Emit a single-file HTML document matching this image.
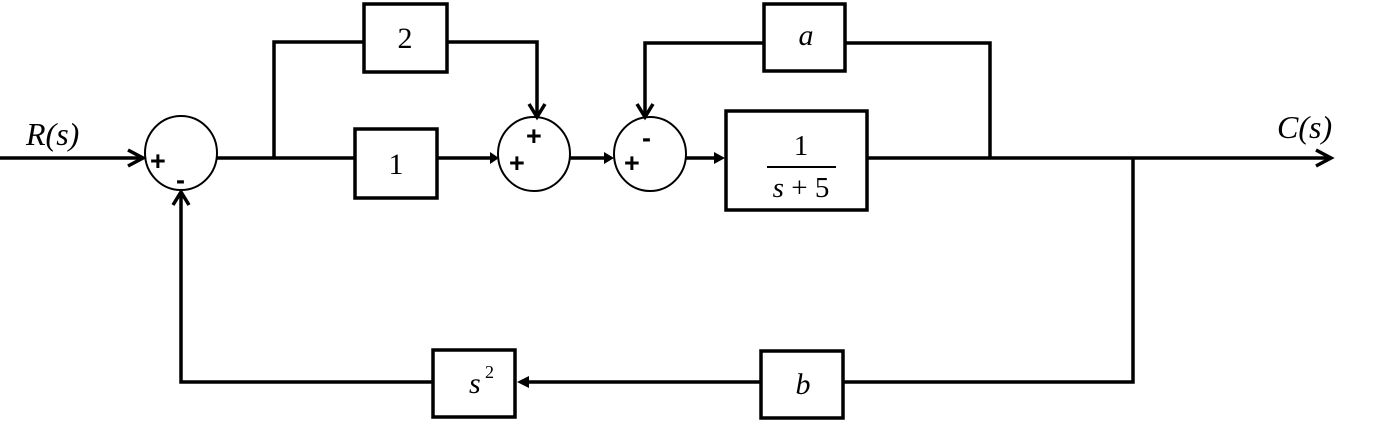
<!DOCTYPE html>
<html><head><meta charset="utf-8"><style>
html,body{margin:0;padding:0;background:#fff;}
svg{display:block;}
.t{font-family:"Liberation Serif",serif;fill:#000;}
.s{font-family:"Liberation Sans",sans-serif;font-weight:bold;fill:#000;}
</style></head><body>
<svg width="1379" height="422" viewBox="0 0 1379 422" xmlns="http://www.w3.org/2000/svg">
<g fill="none" stroke="#000" stroke-width="3.5">
<line x1="0" y1="158" x2="142" y2="158"/>
<polyline points="128,150 143,158 128,166"/>
<line x1="217" y1="158" x2="355" y2="158"/>
<line x1="438" y1="158" x2="490" y2="158"/>
<polyline points="274,158 274,42 364,42"/>
<polyline points="447,42 537,42 537,116"/>
<polyline points="529,104 537,117 545,104"/>
<line x1="570" y1="158" x2="606" y2="158"/>
<line x1="686" y1="158" x2="716" y2="158"/>
<line x1="868" y1="158" x2="1330" y2="158"/>
<polyline points="1316,150 1331,158 1316,166"/>
<polyline points="990,158 990,43 845,43"/>
<polyline points="764,43 645,43 645,116"/>
<polyline points="637,104 645,117 653,104"/>
<polyline points="1133,158 1133,382 843,382"/>
<line x1="760" y1="382" x2="525" y2="382"/>
<polyline points="433,382 181,382 181,193"/>
<polyline points="173,205 181,192 189,205"/>
<rect x="364" y="4" width="83" height="68"/>
<rect x="355" y="129" width="82" height="69"/>
<rect x="726" y="111" width="141" height="99"/>
<rect x="764" y="4" width="81" height="67"/>
<rect x="761" y="351" width="82" height="67"/>
<rect x="433" y="350" width="82" height="67"/>
</g>
<line x1="767" y1="167" x2="836" y2="167" stroke="#000" stroke-width="2"/>
<g fill="none" stroke="#000" stroke-width="2">
<ellipse cx="181" cy="153" rx="36" ry="37"/>
<ellipse cx="534" cy="154" rx="36" ry="37"/>
<ellipse cx="650" cy="154" rx="36" ry="37"/>
</g>
<g fill="#000">
<polygon points="490,152 499,158 490,164"/>
<polygon points="604,152 614,158 604,164"/>
<polygon points="714,152 725,158 714,164"/>
<polygon points="529,376 517,382 529,388"/>
</g>
<text class="s" x="150" y="170" font-size="27">+</text>
<text class="s" x="176" y="189" font-size="27">-</text>
<text class="s" x="526" y="145" font-size="27">+</text>
<text class="s" x="509" y="172" font-size="27">+</text>
<text class="s" x="642" y="147" font-size="27">-</text>
<text class="s" x="624" y="172" font-size="27">+</text>
<text class="t" x="26" y="145" font-size="32" font-style="italic">R(s)</text>
<text class="t" x="1277" y="138" font-size="32" font-style="italic">C(s)</text>
<text class="t" x="405" y="48" font-size="30" text-anchor="middle">2</text>
<text class="t" x="396" y="174" font-size="30" text-anchor="middle">1</text>
<text class="t" x="806" y="45" font-size="30" font-style="italic" text-anchor="middle">a</text>
<text class="t" x="801" y="155" font-size="29" text-anchor="middle">1</text>
<text class="t" x="801" y="197" font-size="29" text-anchor="middle"><tspan font-style="italic">s</tspan> + 5</text>
<text class="t" x="803" y="394" font-size="30" font-style="italic" text-anchor="middle">b</text>
<text class="t" x="469" y="393" font-size="30" font-style="italic">s</text>
<text class="t" x="485" y="378" font-size="18">2</text>
</svg>
</body></html>
